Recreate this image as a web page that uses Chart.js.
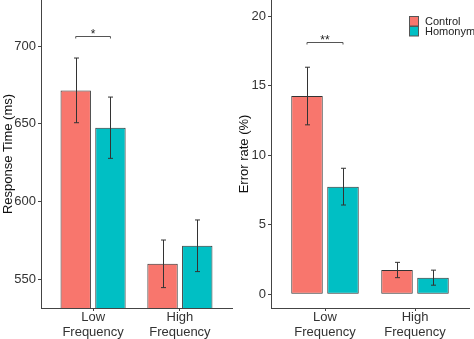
<!DOCTYPE html>
<html>
<head>
<meta charset="utf-8">
<script src="https://cdn.jsdelivr.net/npm/chart.js@4.4.1/dist/chart.umd.min.js"></script>
<style>
  html, body { margin: 0; padding: 0; background: #fff; }
  #wrap { position: relative; width: 474px; height: 339px; overflow: hidden; }
  canvas { position: absolute; top: 0; }
</style>
</head>
<body>
<div id="wrap">
  <canvas id="rt" width="237" height="339" style="left:0"></canvas>
  <canvas id="err" width="237" height="339" style="left:237px"></canvas>
</div>
<script>
const categories = ["Low Frequency", "High Frequency"];
const groups = ["Control", "Homonym"];

// response time (ms)
const rtControl = [671.5, 560.0];
const rtHomonym = [647.5, 571.6];
const rtControlSE = [20.8, 15.3];
const rtHomonymSE = [19.7, 16.6];
const rtTicks = [550, 600, 650, 700];
const rtSigY = 706.4;
const rtSigLabel = "*";

// error rate (%)
const errControl = [14.25, 1.75];
const errHomonym = [7.74, 1.2];
const errControlSE = [2.07, 0.55];
const errHomonymSE = [1.32, 0.54];
const errTicks = [0, 5, 10, 15, 20];
const errSigY = 18.1;
const errSigLabel = "**";

const fills = ["#F8766D", "#00BFC4"];
const FONT = "'Liberation Sans', Arial, sans-serif";
Chart.defaults.font.family = FONT;

const errorBars = {
  id: "errorBars",
  afterDatasetsDraw(chart) {
    const { ctx } = chart;
    const y = chart.scales.y;
    ctx.save();
    ctx.strokeStyle = "#333";
    ctx.lineWidth = 1;
    chart.data.datasets.forEach((ds, i) => {
      chart.getDatasetMeta(i).data.forEach((bar, j) => {
        const v = ds.data[j].y, e = ds.errors[j];
        const x = Math.round(bar.x) + 0.5;
        const top = y.getPixelForValue(v + e), bot = y.getPixelForValue(v - e);
        ctx.beginPath();
        ctx.moveTo(x, top); ctx.lineTo(x, bot);
        ctx.moveTo(x - 2.5, top); ctx.lineTo(x + 2.5, top);
        ctx.moveTo(x - 2.5, bot); ctx.lineTo(x + 2.5, bot);
        ctx.stroke();
      });
    });
    ctx.restore();
  }
};

const sigBracket = {
  id: "sigBracket",
  afterDatasetsDraw(chart, args, opts) {
    const { ctx } = chart;
    const x1 = chart.getDatasetMeta(0).data[0].x;
    const x2 = chart.getDatasetMeta(1).data[0].x;
    const yy = Math.round(chart.scales.y.getPixelForValue(opts.y)) + 0.5;
    ctx.save();
    ctx.strokeStyle = "#555";
    ctx.lineWidth = 1;
    ctx.beginPath();
    ctx.moveTo(x1, yy + 2); ctx.lineTo(x1, yy); ctx.lineTo(x2, yy); ctx.lineTo(x2, yy + 2);
    ctx.stroke();
    ctx.fillStyle = "#222";
    ctx.font = "12px " + FONT;
    ctx.textAlign = "center";
    ctx.textBaseline = "alphabetic";
    ctx.fillText(opts.label, (x1 + x2) / 2, yy + 1.5);
    ctx.restore();
  }
};

const keyLegend = {
  id: "keyLegend",
  afterDraw(chart, args, opts) {
    if (!opts.show) return;
    const { ctx } = chart;
    ctx.save();
    ctx.font = "11px " + FONT;
    ctx.textBaseline = "middle";
    ctx.textAlign = "left";
    groups.forEach((g, i) => {
      const top = 16.5 + i * 10;
      ctx.fillStyle = fills[i];
      ctx.fillRect(172.5, top, 9, 9.5);
      ctx.strokeStyle = "#555";
      ctx.lineWidth = 1;
      ctx.strokeRect(172.5, top, 9, 9.5);
      ctx.fillStyle = "#222";
      ctx.fillText(g, 188, top + 5);
    });
    ctx.restore();
  }
};

// no extra room for half tick labels at the axis ends
function noMargins(s) {
  s.paddingTop = 0;
  s.paddingBottom = 0;
  s.paddingLeft = 0;
  s.paddingRight = 0;
}

function buildChart(id, series, errors, ticks, yMin, yMax, yTitle, axisW, titlePad, sigY, sigLabel, showLegend) {
  new Chart(document.getElementById(id), {
    type: "bar",
    data: {
      datasets: series.map((vals, i) => ({
        label: groups[i],
        data: vals.map((v, j) => ({ x: j + 1, y: v })),
        errors: errors[i],
        backgroundColor: fills[i],
        borderColor: "#333",
        borderWidth: 1,
        borderSkipped: false,
        categoryPercentage: 0.8,
        barPercentage: 0.875
      }))
    },
    options: {
      responsive: false,
      animation: false,
      devicePixelRatio: 1,
      layout: { padding: { left: 0, right: 5, top: 0, bottom: 0 } },
      plugins: {
        legend: { display: false },
        tooltip: { enabled: false },
        sigBracket: { y: sigY, label: sigLabel },
        keyLegend: { show: showLegend }
      },
      scales: {
        x: {
          type: "linear",
          offset: false,
          min: 0.4,
          max: 2.6,
          afterBuildTicks: (s) => { s.ticks = categories.map((c, i) => ({ value: i + 1 })); },
          afterFit: (s) => { s.height = 31; noMargins(s); },
          ticks: {
            autoSkip: false,
            maxRotation: 0,
            padding: -1,
            color: "#333",
            font: { size: 13, lineHeight: 1.15 },
            callback: (v, i) => categories[i].split(" ")
          },
          grid: { offset: false, drawOnChartArea: false, drawTicks: true, tickLength: 3, color: "#444" },
          border: { color: "#444", width: 1 }
        },
        y: {
          min: yMin,
          max: yMax,
          afterBuildTicks: (s) => { s.ticks = ticks.map((v) => ({ value: v })); },
          afterFit: (s) => { s.width = axisW; noMargins(s); },
          ticks: { padding: 2, color: "#333", font: { size: 13 } },
          grid: { drawOnChartArea: false, drawTicks: true, tickLength: 3, color: "#444" },
          border: { color: "#444", width: 1 },
          title: {
            display: true,
            text: yTitle,
            color: "#111",
            font: { size: 13 },
            padding: { top: titlePad, bottom: 0 }
          }
        }
      }
    },
    plugins: [errorBars, sigBracket, keyLegend]
  });
}

buildChart("rt", [rtControl, rtHomonym], [rtControlSE, rtHomonymSE], rtTicks,
  531.6, 729.6, "Response Time (ms)", 41, 1, rtSigY, rtSigLabel, false);
buildChart("err", [errControl, errHomonym], [errControlSE, errHomonymSE], errTicks,
  -0.98, 21.15, "Error rate (%)", 34, 0, errSigY, errSigLabel, true);
</script>
</body>
</html>
